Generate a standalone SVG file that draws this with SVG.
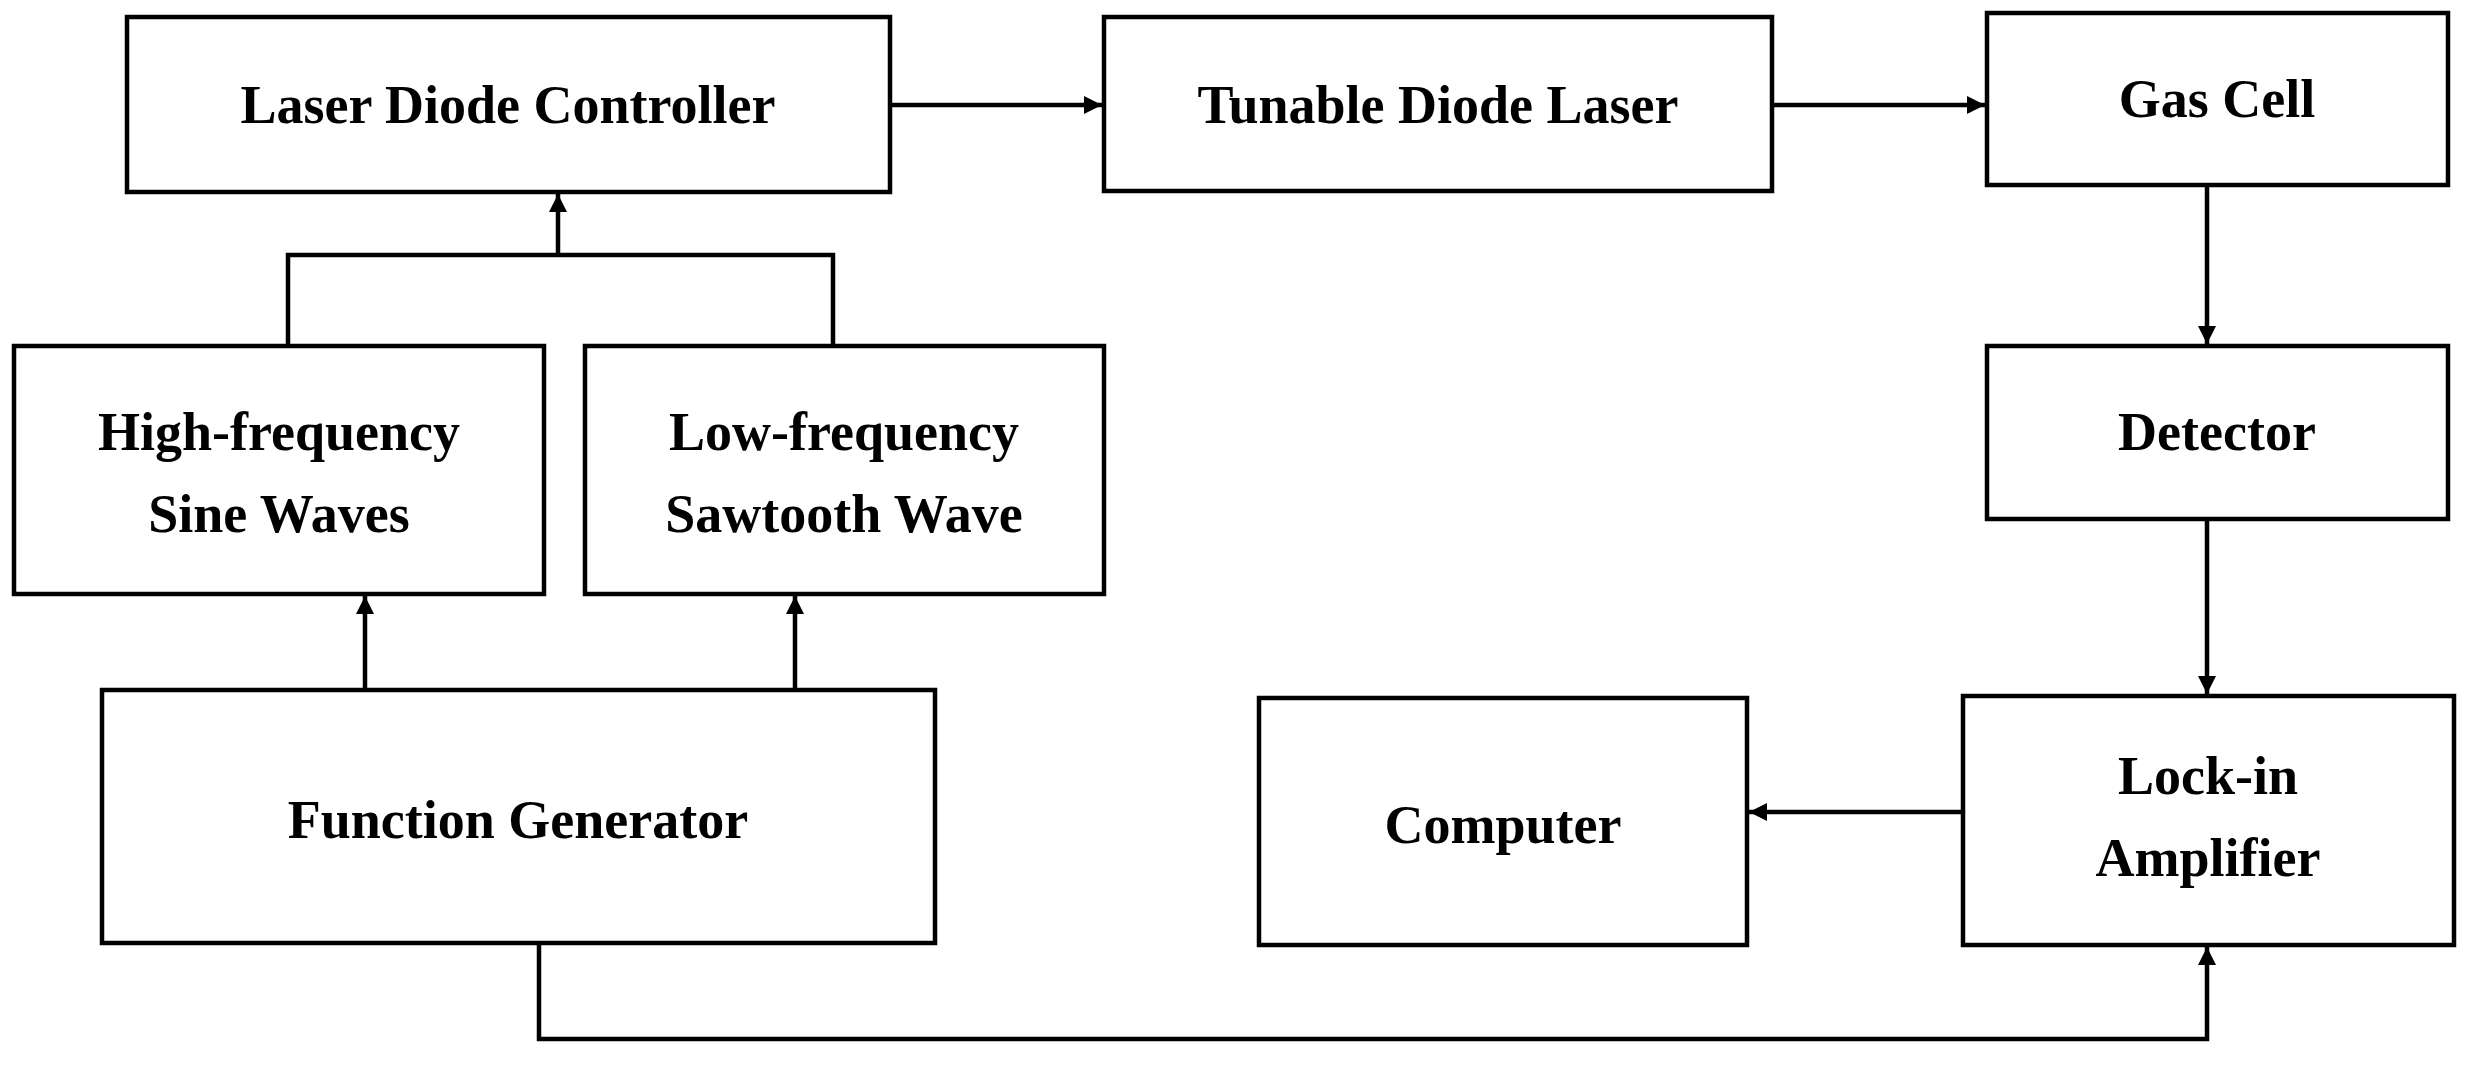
<svg xmlns="http://www.w3.org/2000/svg" width="2465" height="1065" viewBox="0 0 2465 1065">
<style>
rect{fill:#fff;stroke:#000;stroke-width:4.5}
text{font-family:"Liberation Serif","Times New Roman",serif;font-weight:bold;font-size:54px;text-anchor:middle;fill:#000}
.c{fill:none;stroke:#000;stroke-width:4.5}
</style>
<defs><marker id="a" viewBox="0 0 10 10" refX="10" refY="5" markerWidth="4" markerHeight="4" orient="auto"><path d="M0,0L10,5L0,10z" fill="#000"/></marker></defs>
<rect width="2465" height="1065" style="stroke:none"/>
<g id="connectors">
<path class="c" d="M890,105H1102" marker-end="url(#a)"/>
<path class="c" d="M1772,105H1985" marker-end="url(#a)"/>
<path class="c" d="M2207,185V344" marker-end="url(#a)"/>
<path class="c" d="M2207,519V694" marker-end="url(#a)"/>
<path class="c" d="M1963,812H1749" marker-end="url(#a)"/>
<path class="c" d="M539,943V1039H2207V947" marker-end="url(#a)"/>
<path class="c" d="M365,690V596" marker-end="url(#a)"/>
<path class="c" d="M795,697V596" marker-end="url(#a)"/>
<path class="c" d="M288,346V255H833V346"/>
<path class="c" d="M558,257V194" marker-end="url(#a)"/>
</g>
<g id="ldc"><rect x="127" y="17" width="763" height="175"/><text x="508" y="123">Laser Diode Controller</text></g>
<g id="tdl"><rect x="1104" y="17" width="668" height="174"/><text x="1438" y="123">Tunable Diode Laser</text></g>
<g id="gas"><rect x="1987" y="13" width="461" height="172"/><text x="2217" y="117">Gas Cell</text></g>
<g id="det"><rect x="1987" y="346" width="461" height="173"/><text x="2217" y="450">Detector</text></g>
<g id="lock"><rect x="1963" y="696" width="491" height="249"/><text x="2208" y="794">Lock-in</text><text x="2208" y="876">Amplifier</text></g>
<g id="comp"><rect x="1259" y="698" width="488" height="247"/><text x="1503" y="843">Computer</text></g>
<g id="hf"><rect x="14" y="346" width="530" height="248"/><text x="279" y="450">High-frequency</text><text x="279" y="532">Sine Waves</text></g>
<g id="lf"><rect x="585" y="346" width="519" height="248"/><text x="844" y="450">Low-frequency</text><text x="844" y="532">Sawtooth Wave</text></g>
<g id="fg"><rect x="102" y="690" width="833" height="253"/><text x="518" y="838">Function Generator</text></g>
</svg>
